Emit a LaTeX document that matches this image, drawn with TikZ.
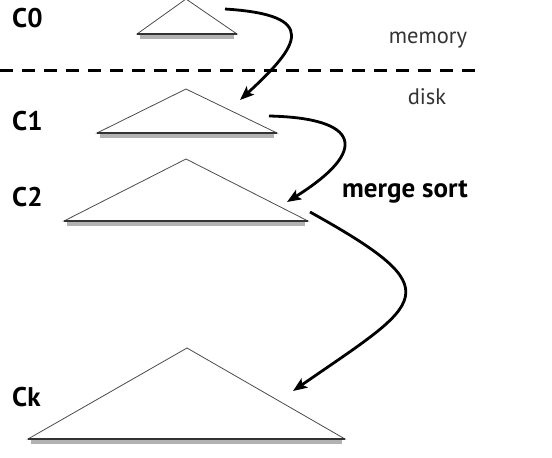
\documentclass[tikz,border=0pt]{standalone}
\usepackage{fontspec}
\setmainfont{PT Sans}
\usetikzlibrary{arrows.meta}
\begin{document}
\begin{tikzpicture}[x=1pt,y=-1pt,
  tri/.style={draw=black!70,line width=0.8pt,fill=white,line join=miter},
  shadow/.style={draw=black!30,line width=4pt},
  base/.style={draw=black!80,line width=1.3pt},
  lbl/.style={anchor=west,inner sep=0pt,font=\fontsize{27}{29}\selectfont\bfseries},
  side/.style={inner sep=0pt,font=\fontsize{22.5}{24}\selectfont,text=black!80},
  flow/.style={line width=2.8pt,-{Stealth[length=14pt,width=11pt,inset=3pt]}},
  sep/.style={line width=3pt,dash pattern=on 13pt off 9pt}]
\useasboundingbox[fill=white] (0,0) rectangle (552,458);
% triangles
\foreach \n/\ax/\ay/\lx/\rx/\by in {c0/186/-1/137/237/34, c1/186/89/97/277/133, c2/186/159/64/308/221, ck/187/348/28/345/439}{
  \draw[shadow] (\lx+3,\by+2.5) -- (\rx-3,\by+2.5);
  \draw[tri] (\lx,\by) -- (\ax,\ay) -- (\rx,\by) -- cycle;
  \draw[base] (\lx,\by) -- (\rx,\by);
}
% labels
\node[lbl] (l0) at (12,18) {C0};
\node[lbl] (l1) at (12,121) {C1};
\node[lbl] (l2) at (12,197) {C2};
\node[lbl] (lk) at (12,397) {Ck};
\node[side] (mem) at (428,40) {memory};
\node[side] (dsk) at (427,97) {disk};
\node[lbl,anchor=center] (ms) at (405,192) {merge sort};
% dashed separator
\coordinate (s0) at (0,70);
\coordinate (s1) at (477,70);
\draw[sep] (s0) -- (s1);
% arrow end points
\coordinate (a0) at (225,9);
\coordinate (b0) at (240,100);
\coordinate (a1) at (269,116);
\coordinate (b1) at (287,202);
\coordinate (a2) at (310,212);
\coordinate (b2) at (293,391);
\draw[flow] (a0) .. controls (320,15) and (300,45) .. (b0);
\draw[flow] (a1) .. controls (360,118) and (370,150) .. (b1);
\draw[flow] (a2) .. controls (454,292) and (423,301) .. (b2);
\end{tikzpicture}
\end{document}
